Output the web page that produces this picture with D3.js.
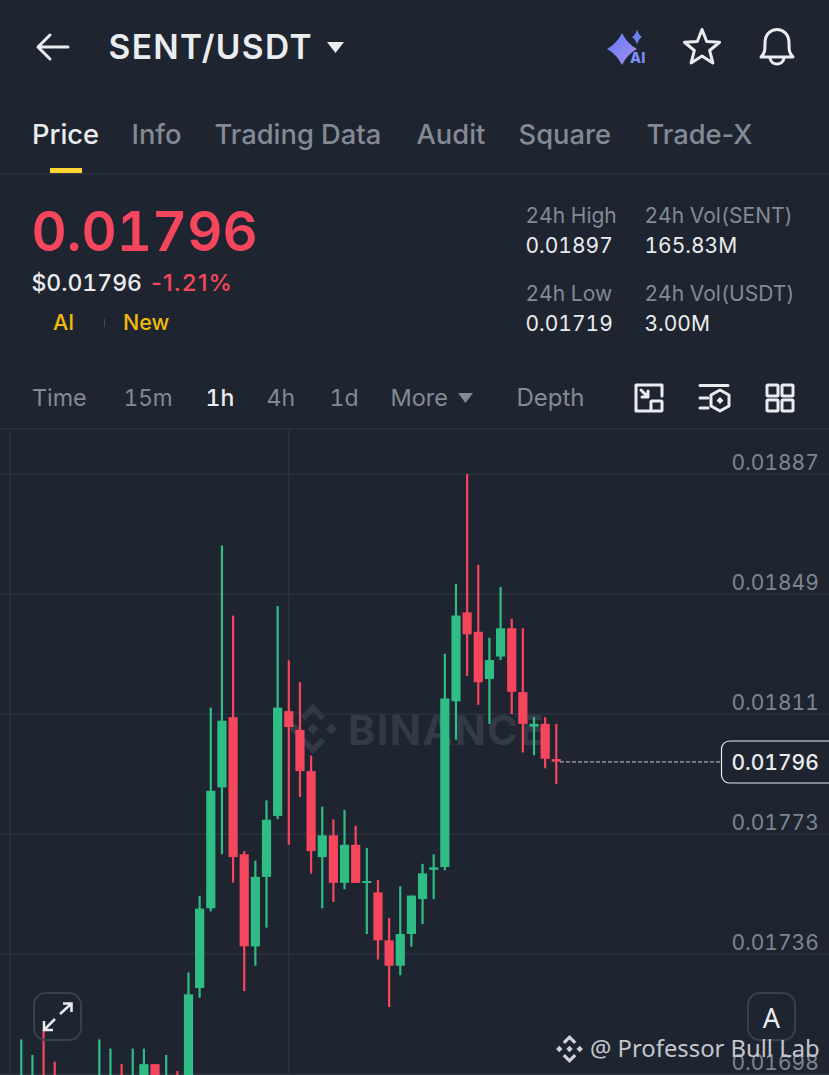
<!DOCTYPE html>
<html><head><meta charset="utf-8">
<script src="https://cdn.jsdelivr.net/npm/d3@7/dist/d3.min.js"></script>
<style>html,body{margin:0;padding:0;background:#1e2530}svg{display:block}.n{font-feature-settings:"tnum" 1;font-variant-numeric:tabular-nums}</style>
</head><body><svg id="c" width="829" height="1075"></svg>
<script>
// Hourly candles, prices (candles 0-14 have bodies below the visible area: estimates)
const highs=[.017089,.01704,.017119,.017019,.016945,.016945,.016945,.017089,.01706,.017012,.01706,.01706,.017011,.01704,.016989,.0173,.017541,.018134,.018645,.018424,.017682,.017652,.017842,.018454,.018283,.018214,.017983,.017822,.017782,.017812,.017762,.017692,.017591,.017471,.017571,.017542,.017642,.017672,.018304,.018524,.01887,.018584,.018354,.018514,.018414,.018384,.018104,.018104,.018083];
const opens=[.016898,.016882,.016945,.016914,.016914,.016914,.016914,.016898,.016898,.01693,.016914,.016945,.017011,.016914,.016945,.01693,.017251,.017502,.017883,.018104,.017672,.017382,.017601,.017793,.018123,.018064,.017934,.017663,.017732,.017582,.017702,.017582,.017552,.017401,.017321,.017421,.017531,.017623,.017632,.018154,.018434,.018373,.018224,.018295,.018384,.018183,.018074,.018083,.017972];
const closes=[.016945,.01693,.016898,.016882,.01693,.01693,.01693,.016945,.01693,.016898,.016945,.017011,.01693,.016945,.01693,.017231,.017501,.017872,.018093,.017663,.017382,.017601,.017781,.018134,.018073,.017934,.017682,.017732,.017582,.017702,.017582,.017588,.017401,.017321,.017421,.017542,.017612,.017631,.018163,.018424,.018365,.018214,.018284,.018384,.018184,.018083,.018083,.017973,.017964];
const lows=[.016882,.016867,.016867,.016851,.016898,.016898,.016898,.016882,.016882,.016882,.016898,.016914,.016914,.016898,.016914,.016914,.01722,.017492,.017672,.017583,.017241,.017321,.017441,.017783,.017702,.017853,.017611,.017502,.017522,.017562,.017582,.017421,.017341,.017191,.017291,.017381,.017452,.017531,.017622,.018033,.018234,.018143,.018083,.018284,.018114,.017993,.017984,.017943,.017893];
const gridPrices=[.01887,.018492,.018114,.017736,.017358,.01698];
const priceLabels=["0.01887","0.01849","0.01811","0.01773","0.01736","0.01698"];
const lastPrice=.017963, lastLabel="0.01796";
const vGridSlots=[-1,24];

const UP="#2EBD85",DOWN="#F6465D",GRID="#2d333e",GRAY="#848a94",BG="#1e2530";
const F="Inter, sans-serif";
const svg=d3.select("#c");
svg.append("rect").attr("width",829).attr("height",1075).attr("fill",BG);

const y=d3.scaleLinear().domain([.01887,.01698]).range([474,1074]);
const x=d3.scaleLinear().domain([0,48]).range([21.3,556.3]);

const text=(s,px,py,size,fill,weight=400,anchor="start",fam=F)=>svg.append("text").attr("x",px).attr("y",py).attr("font-size",size).attr("fill",fill).attr("font-weight",weight).attr("text-anchor",anchor).attr("font-family",fam).text(s);

// header
const ic=svg.append("g").attr("fill","none").attr("stroke","#eaecef").attr("stroke-linecap","round").attr("stroke-linejoin","round");
ic.append("path").attr("d","M38 47H68M50 35L38 47L50 59").attr("stroke-width",3);
text("SENT/USDT",108.5,59,33.5,"#eaecef",600).attr("letter-spacing",1.35);
svg.append("path").attr("d","M327 42H344L335.500 53Z").attr("fill","#eaecef");
// AI sparkle
const grad=svg.append("defs").append("linearGradient").attr("id","ai").attr("x1",0).attr("y1",0).attr("x2",1).attr("y2",1);
grad.append("stop").attr("offset",0).attr("stop-color","#5f7cf8");
grad.append("stop").attr("offset",1).attr("stop-color","#a98cf0");
const sp=(cx,cy,r,rx)=>`M${cx} ${cy-r}Q${cx+rx*.35} ${cy-rx*.35} ${cx+rx} ${cy}Q${cx+rx*.35} ${cy+rx*.35} ${cx} ${cy+r}Q${cx-rx*.35} ${cy+rx*.35} ${cx-rx} ${cy}Q${cx-rx*.35} ${cy-rx*.35} ${cx} ${cy-r}Z`;
svg.append("path").attr("d",sp(622,49,16,15)).attr("fill","url(#ai)");
svg.append("path").attr("d",sp(637,37,7.500,5)).attr("fill","#6f7ff0");
text("AI",630,63,14.500,"#7b8ff7",800);
const star=d3.range(10).map(i=>{const r=i%2?8:18.5,a=-Math.PI/2+i*Math.PI/5;return[702+r*Math.cos(a),48+r*Math.sin(a)]});
ic.append("path").attr("d",d3.line()(star)+"Z").attr("stroke-width",3);
ic.append("path").attr("d","M761 57C765 53 765 50 765 43C765 25 789 25 789 43C789 50 789 53 793 57ZM770 58C771 66 783 66 784 58").attr("stroke-width",3);

const tabs=[["Price",32,"#eaecef"],["Info",131.5,GRAY],["Trading Data",214.5,GRAY],["Audit",416.5,GRAY],["Square",518.5,GRAY],["Trade-X",646.5,GRAY]];
tabs.forEach(t=>text(t[0],t[1],144,27.3,t[2],500));
svg.append("rect").attr("x",50).attr("y",168).attr("width",32).attr("height",5.500).attr("fill","#fcd535");
svg.append("rect").attr("x",0).attr("y",173).attr("width",829).attr("height",1.500).attr("fill",GRID);

// price block
text("0.01796",31.5,251,54.5,DOWN,600).attr("class","n");
text("$0.01796",31.5,291,23,"#eaecef",500).attr("class","n");
text("-1.21%",151,291,23.5,DOWN,500).attr("letter-spacing",1.1);
text("AI",53,330,21.5,"#f0b90b",500);
svg.append("rect").attr("x",104).attr("y",319).attr("width",1).attr("height",8).attr("fill","#474d57");
text("New",123,330,21.5,"#f0b90b",500);
const stats=[["24h High",525.5,223,GRAY],["24h Vol(SENT)",644.5,223,GRAY],["0.01897",525.5,253,"#eaecef"],["165.83M",644.5,253,"#eaecef"],["24h Low",525.5,301,GRAY],["24h Vol(USDT)",644.5,301,GRAY],["0.01719",525.5,331,"#eaecef"],["3.00M",644.5,331,"#eaecef"]];
stats.forEach(s=>text(s[0],s[1],s[2],21,s[3],400).attr("class","n"));

// interval row
[["Time",32,GRAY,23.3],["15m",123.5,GRAY,22.6],["1h",205.5,"#eaecef",23],["4h",266.5,GRAY,23],["1d",329.5,GRAY,23],["More",390.5,GRAY,23.5],["Depth",516.5,GRAY,24]].forEach(t=>text(t[0],t[1],406,t[3],t[2],t[0]==="1h"?500:400).attr("class","n"));
svg.append("path").attr("d","M458 393H473L465.500 403Z").attr("fill",GRAY);
const ic2=svg.append("g").attr("fill","none").attr("stroke","#eaecef").attr("stroke-width",3).attr("stroke-linecap","round").attr("stroke-linejoin","round");
ic2.append("path").attr("d","M636 411V385H662V396M650 411H636M641 390L648 397M648 391V397H642");
ic2.append("rect").attr("x",651).attr("y",401).attr("width",11).attr("height",10).attr("rx",1);
ic2.append("path").attr("d","M700 385.500H728M700 398H708M700 408H708");
ic2.append("path").attr("d","M720 390L729 395V406L720 411L711 406V395Z");
svg.append("path").attr("d","M720 397L723.500 400.500L720 404L716.500 400.500Z").attr("fill","#eaecef");
[[767,385],[782,385],[767,400],[782,400]].forEach(p=>ic2.append("rect").attr("x",p[0]).attr("y",p[1]).attr("width",11).attr("height",11).attr("rx",1));
svg.append("rect").attr("x",0).attr("y",428).attr("width",829).attr("height",1.500).attr("fill",GRID);

// chart
svg.select("defs").append("clipPath").attr("id","plot").append("rect").attr("x",0).attr("y",430).attr("width",829).attr("height",645);
const plot=svg.append("g").attr("clip-path","url(#plot)");

const logo=(g,cx,cy,s,fill)=>{ // s = half height of the mark
  const u=s/7.4;
  const dia=(x0,y0,r)=>`M${x0} ${y0-r}L${x0+r} ${y0}L${x0} ${y0+r}L${x0-r} ${y0}Z`;
  g.append("path").attr("fill",fill).attr("d",
    dia(cx,cy,1.7*u)+dia(cx-5.4*u,cy,1.7*u)+dia(cx+5.4*u,cy,1.7*u)+
    `M${cx} ${cy-7.4*u}L${cx+3.6*u} ${cy-3.8*u}L${cx+2.4*u} ${cy-2.6*u}L${cx} ${cy-5*u}L${cx-2.4*u} ${cy-2.6*u}L${cx-3.6*u} ${cy-3.8*u}Z`+
    `M${cx} ${cy+7.4*u}L${cx+3.6*u} ${cy+3.8*u}L${cx+2.4*u} ${cy+2.6*u}L${cx} ${cy+5*u}L${cx-2.4*u} ${cy+2.6*u}L${cx-3.6*u} ${cy+3.8*u}Z`);
};
logo(plot,313,729,25,"#343a45");
plot.append("text").attr("x",348).attr("y",745).attr("font-family",F).attr("font-weight",700).attr("font-size",41).attr("fill","#343a45").attr("letter-spacing",1.5).text("BINANCE");

plot.selectAll(".g").data(gridPrices).join("line").attr("x1",0).attr("x2",829).attr("y1",d=>y(d)).attr("y2",d=>y(d)).attr("stroke",GRID).attr("stroke-width",1.5);
plot.selectAll(".v").data(vGridSlots).join("line").attr("x1",d=>x(d)).attr("x2",d=>x(d)).attr("y1",430).attr("y2",1075).attr("stroke",GRID).attr("stroke-width",1.5);

// right price axis
const axis=d3.axisRight(y).tickValues(gridPrices).tickSize(0).tickPadding(0).tickFormat((d,i)=>priceLabels[i]);
const ax=plot.append("g").attr("transform","translate(731.5,-12)").attr("class","n").call(axis);
ax.select(".domain").remove();
ax.selectAll("text").attr("font-family",F).attr("font-size",21).attr("fill","#7d8592").attr("dy","0.36em");

const data=opens.map((o,i)=>({i,o,c:closes[i],h:highs[i],l:lows[i]}));
const col=d=>d.c>=d.o?UP:DOWN;
plot.selectAll(".w").data(data).join("rect").attr("x",d=>x(d.i)-1.1).attr("width",2.2).attr("y",d=>y(d.h)).attr("height",d=>y(d.l)-y(d.h)).attr("fill",col);
plot.selectAll(".b").data(data).join("rect").attr("x",d=>x(d.i)-4.6).attr("width",9.2).attr("y",d=>y(Math.max(d.o,d.c))).attr("height",d=>Math.max(y(Math.min(d.o,d.c))-y(Math.max(d.o,d.c)),2)).attr("fill",col);

// last price line and tag
svg.append("line").attr("x1",560).attr("x2",721).attr("y1",y(lastPrice)).attr("y2",y(lastPrice)).attr("stroke","#c4c8ce").attr("stroke-width",1).attr("stroke-dasharray","4 2");
svg.append("rect").attr("x",721.500).attr("y",741).attr("width",120).attr("height",42).attr("rx",8).attr("fill",BG).attr("stroke","#eaecef").attr("stroke-width",1.2);
text(lastLabel,731.5,770,21,"#eaecef",500).attr("class","n");

// buttons
const btn=svg.append("g").attr("fill","none").attr("stroke","#3a404b").attr("stroke-width",2);
btn.append("rect").attr("x",34).attr("y",993).attr("width",47).attr("height",47).attr("rx",12);
btn.append("rect").attr("x",748).attr("y",993).attr("width",47).attr("height",47).attr("rx",12);
svg.append("path").attr("d","M60 1014L71 1004M63 1003.500H71.500V1012M55 1019L44.500 1029.500M44 1021V1030H53").attr("fill","none").attr("stroke","#eaecef").attr("stroke-width",2.5);
text("A",771.500,1028,27,"#eaecef",400,"middle","Noto Sans");

// source watermark
logo(svg,569.500,1049,14,"#d0d3d8");
text("@ Professor Bull Lab",590,1057,23.8,"#c3c7cd",400,"start","Noto Sans");
</script></body></html>
